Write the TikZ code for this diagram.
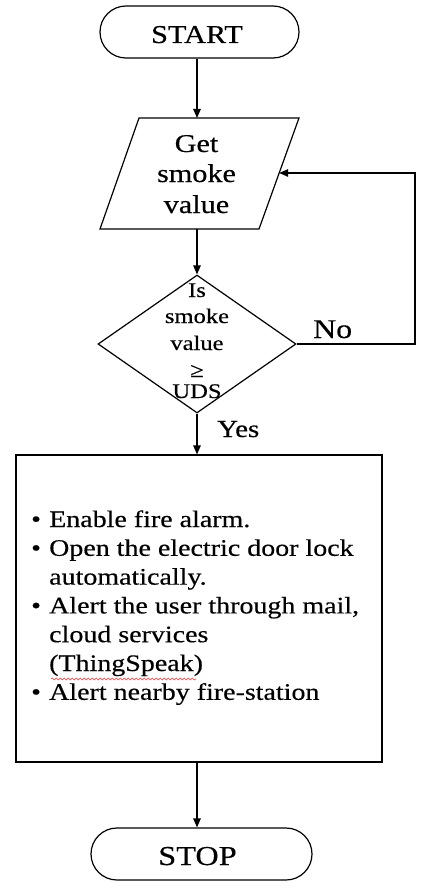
\documentclass[tikz,border=0pt]{standalone}
\usepackage{fontspec}
\setmainfont{Liberation Serif}[FakeStretch=1.18,FakeBold=0.4]
\usetikzlibrary{shapes.misc,shapes.geometric,arrows.meta,decorations.pathmorphing}
\newcommand\fsz[1]{\fontsize{#1pt}{#1pt}\selectfont}
\begin{document}
\begin{tikzpicture}[x=1pt,y=-1pt,
  shp/.style={draw=black, line width=1.2pt, inner sep=0pt},
  term/.style={shp, rounded rectangle},
  decide/.style={shp, diamond},
  proc/.style={shp, rectangle},
  txt/.style={inner sep=0pt, anchor=base},
  ltxt/.style={inner sep=0pt, anchor=base west, font=\fsz{23.7}},
  conn/.style={draw=black, line width=1.2pt, -{Triangle[length=9pt,width=7.5pt]}}]
\useasboundingbox (0,0) rectangle (439,888);
\coordinate (col) at (197,0);
% shapes
\node[term, minimum width=199pt, minimum height=52pt] (start) at (199.5,32) {};
\coordinate (pa) at (139,118);
\coordinate (pb) at (299,118);
\coordinate (pc) at (259,229);
\coordinate (pd) at (100,229);
\draw[line width=1.2pt, line join=miter] (pa) -- (pb) -- (pc) -- (pd) -- cycle;
\coordinate (ptop) at (197,118);
\coordinate (pbot) at (197,229);
\node[decide, minimum width=198pt, minimum height=138pt] (dec) at (197,344) {};
\node[proc, minimum width=366pt, minimum height=307pt] (box) at (199,608.5) {};
\node[term, minimum width=221pt, minimum height=52pt] (stop) at (201.5,854) {};
% texts
\node[txt, font=\fsz{25.7}] (tstart) at (197,43) {START};
\node[txt, font=\fsz{25.6}] (tp1) at (196.5,152) {Get};
\node[txt, font=\fsz{25.6}] (tp2) at (196.5,182) {smoke};
\node[txt, font=\fsz{25.6}] (tp3) at (196.5,213) {value};
\node[txt, font=\fsz{20.8}] (td1) at (197,297) {Is};
\node[txt, font=\fsz{20.8}] (td2) at (197,323) {smoke};
\node[txt, font=\fsz{20.8}] (td3) at (197,350) {value};
\node[txt, font=\fsz{20.8}] (td4) at (197,377) {≥};
\node[txt, font=\fsz{20.8}] (td5) at (197,398) {UDS};
\node[inner sep=0pt, anchor=base west, font=\fsz{27}] (tno) at (313,338) {No};
\node[inner sep=0pt, anchor=base west, font=\fsz{24.5}] (tyes) at (217,437) {Yes};
\node[txt, font=\fsz{27.4}] (tstop) at (197.5,865) {STOP};
% box list
\node[ltxt] (b1) at (31,527) {•};
\node[ltxt] (b2) at (31,555.8) {•};
\node[ltxt] (b4) at (31,613.4) {•};
\node[ltxt] (b7) at (31,699.8) {•};
\node[ltxt] (l1) at (49,527) {Enable fire alarm.};
\node[ltxt] (l2) at (49,555.8) {Open the electric door lock};
\node[ltxt] (l3) at (49,584.6) {automatically.};
\node[ltxt] (l4) at (49,613.4) {Alert the user through mail,};
\node[ltxt] (l5) at (49,642.2) {cloud services};
\node[ltxt] (l6) at (49,671) {(ThingSpeak)};
\node[ltxt] (l7) at (49,699.8) {Alert nearby fire-station};
\draw[red!80, line width=0.6pt, decorate, decoration={snake, amplitude=1pt, segment length=4pt}] (51,679) -- (196,679);
% connectors
\coordinate (loopin) at (279.2,173);
\coordinate (loopr) at (415,344);
\draw[conn] (start.south -| col) -- (ptop);
\draw[conn] (pbot) -- (dec.north);
\draw[conn] (dec.east) -- (loopr) |- (loopin);
\draw[conn] (dec.south) -- (box.north -| col);
\draw[conn] (box.south -| col) -- (stop.north -| col);
\end{tikzpicture}
\end{document}
